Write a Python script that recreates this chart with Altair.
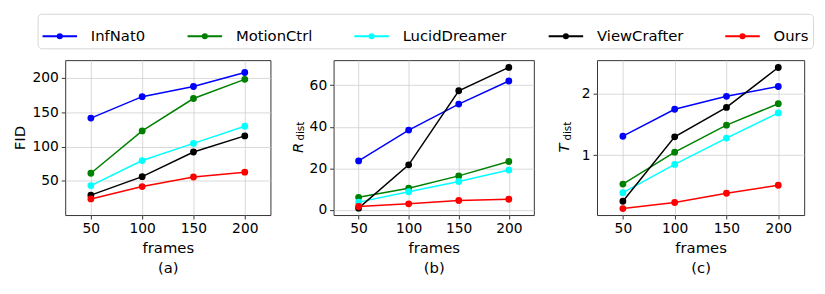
import altair as alt
import pandas as pd

frames = [50, 100, 150, 200]
methods = ["InfNat0", "MotionCtrl", "LucidDreamer", "ViewCrafter", "Ours"]
colors = ["#0000ff", "#008000", "#00ffff", "#000000", "#ff0000"]

fid_infnat0 = [141.5, 172.7, 187.5, 208.0]
fid_motionctrl = [61.0, 122.8, 170.0, 198.0]
fid_lucid = [43.0, 79.5, 104.5, 129.5]
fid_viewcrafter = [29.0, 56.0, 92.0, 115.5]
fid_ours = [23.5, 41.5, 55.5, 62.5]

r_infnat0 = [23.6, 38.4, 50.9, 62.0]
r_motionctrl = [6.1, 10.5, 16.4, 23.3]
r_lucid = [3.8, 8.8, 13.7, 19.2]
r_viewcrafter = [0.9, 21.7, 57.3, 68.5]
r_ours = [1.7, 3.0, 4.6, 5.2]

t_infnat0 = [1.31, 1.75, 1.96, 2.12]
t_motionctrl = [0.53, 1.05, 1.49, 1.84]
t_lucid = [0.39, 0.85, 1.28, 1.69]
t_viewcrafter = [0.25, 1.30, 1.78, 2.43]
t_ours = [0.13, 0.23, 0.38, 0.51]

fid_ticks = [50, 100, 150, 200]
r_ticks = [0, 20, 40, 60]
t_ticks = [1, 2]

FONT = "DejaVu Sans"
H = 157


def to_df(series):
    rows = []
    for m, vals in zip(methods, series):
        for f, v in zip(frames, vals):
            rows.append({"frames": f, "method": m, "value": v})
    return pd.DataFrame(rows)


legend = alt.Legend(
    title=None,
    orient="none",
    legendX=-28,
    legendY=-47,
    direction="horizontal",
    columns=5,
    symbolType="M-1,0L1,0M0.12,0A0.12,0.12,0,1,1,-0.12,0A0.12,0.12,0,1,1,0.12,0Z",
    symbolSize=1225,
    symbolStrokeWidth=2,
    labelFont=FONT,
    labelFontSize=15,
    labelColor="black",
    labelOffset=13,
    columnPadding=38,
    padding=4,
    strokeColor="#d6d6d6",
    fillColor="white",
    cornerRadius=4,
)


def panel(series, ydomain, yticks, caption, width, ytitle=None, sub=None, subpos=None):
    df = to_df(series)
    lines = alt.Chart(df).mark_line(
        strokeWidth=1.5,
        point=alt.OverlayMarkDef(filled=True, size=48, opacity=1),
    ).encode(
        x=alt.X("frames:Q",
                scale=alt.Scale(domain=[25, 225], nice=False, zero=False),
                axis=alt.Axis(values=frames, title=["frames", caption],
                              titleLineHeight=20, titlePadding=5)),
        y=alt.Y("value:Q",
                scale=alt.Scale(domain=ydomain, nice=False, zero=False),
                axis=alt.Axis(values=yticks, title=ytitle if ytitle else None,
                              titlePadding=5)),
        color=alt.Color("method:N", sort=methods,
                        scale=alt.Scale(domain=methods, range=colors),
                        legend=legend),
    )
    layers = [lines]
    if sub is not None:
        main, small = sub
        (mx, my), (sx, sy) = subpos
        tdf = pd.DataFrame({"t": [main]})
        sdf = pd.DataFrame({"t": ["dist"]})
        layers.append(alt.Chart(tdf).mark_text(
            font=FONT, fontStyle="italic", fontSize=15, angle=270,
            align="center", baseline="middle", color="black"
        ).encode(text="t:N", x=alt.value(mx), y=alt.value(my)))
        layers.append(alt.Chart(sdf).mark_text(
            font=FONT, fontSize=10.5, angle=270,
            align="center", baseline="middle", color="black"
        ).encode(text="t:N", x=alt.value(sx), y=alt.value(sy)))
    return alt.layer(*layers).properties(width=width, height=H)


pa = panel([fid_infnat0, fid_motionctrl, fid_lucid, fid_viewcrafter, fid_ours],
           [0, 226], fid_ticks, "(a)", 208, ytitle="FID")
pb = panel([r_infnat0, r_motionctrl, r_lucid, r_viewcrafter, r_ours],
           [-2.4, 72], r_ticks, "(b)", 203, sub=("R", "dist"),
           subpos=((-36, 89), (-33, 72)))
pc = panel([t_infnat0, t_motionctrl, t_lucid, t_viewcrafter, t_ours],
           [0.025, 2.55], t_ticks, "(c)", 210, sub=("T", "dist"),
           subpos=((-33, 89), (-29, 72)))

chart = alt.hconcat(pa, pb, pc, spacing=64, bounds="flush").resolve_scale(
    color="shared"
).properties(padding=3).configure_view(
    stroke="#333333", strokeWidth=1
).configure_axis(
    domain=False,
    ticks=True,
    tickColor="#333333",
    tickSize=4,
    labelPadding=3,
    labelFont=FONT,
    labelFontSize=14,
    labelColor="black",
    titleFont=FONT,
    titleFontSize=15,
    titleFontWeight="normal",
    titleColor="black",
    grid=True,
    gridColor="#cfcfcf",
    gridWidth=0.8,
)

chart.save("out.html", embed_options={"renderer": "svg", "actions": False})
